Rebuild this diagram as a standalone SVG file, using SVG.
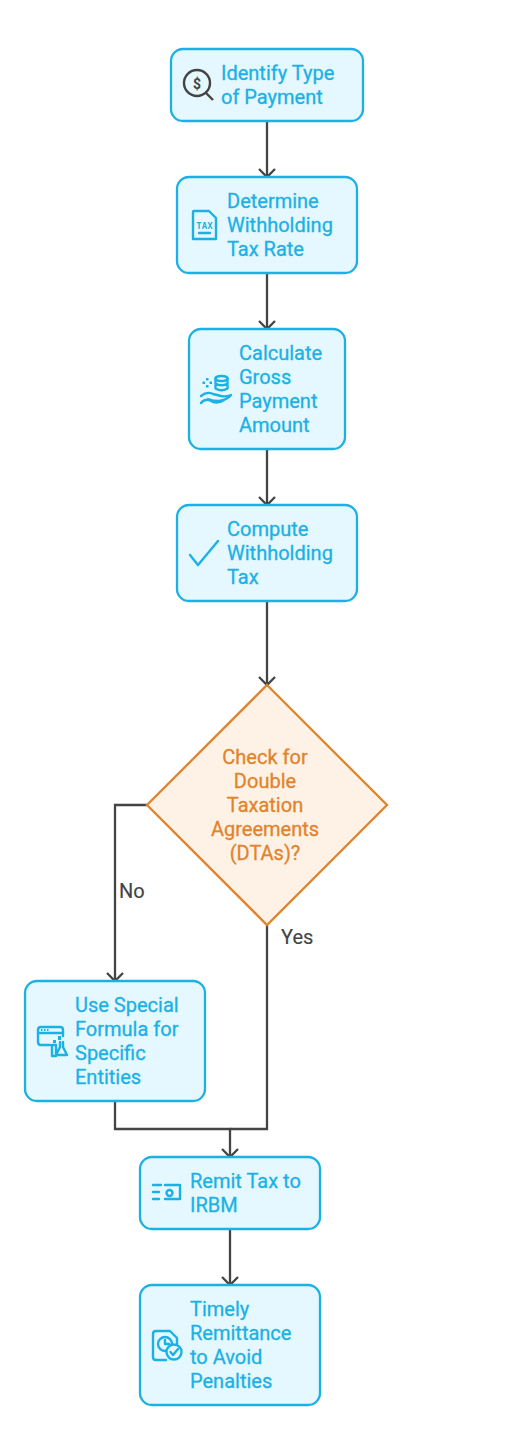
<svg xmlns="http://www.w3.org/2000/svg" width="506" height="1429" viewBox="0 0 506 1429">
<style>
.box{fill:#e5f8ff;stroke:#1bb1e5;stroke-width:2.300}
.t{font-family:Roboto,"Liberation Sans",sans-serif;font-size:20px;fill:#1bb1e5;stroke:#1bb1e5;stroke-width:.3}
.d{fill:#fef2e6;stroke:#e2832c;stroke-width:2.300}
.dt{font-family:Roboto,"Liberation Sans",sans-serif;font-size:20px;fill:#e2832c;stroke:#e2832c;stroke-width:.3;text-anchor:middle}
.l{font-family:Roboto,"Liberation Sans",sans-serif;font-size:20px;fill:#444;stroke:#444;stroke-width:.15}
.c{fill:none;stroke:#444;stroke-width:2.300}
.i{fill:none;stroke:#1bb1e5;stroke-width:2.400;stroke-linecap:round;stroke-linejoin:round}
.f{fill:#1bb1e5}
</style>
<defs>
<marker id="a" markerUnits="userSpaceOnUse" markerWidth="20" markerHeight="20" refX="16" refY="9" orient="auto">
<path d="M8 1L16 9L8 17" fill="none" stroke="#444" stroke-width="2.300"/>
</marker>
</defs>
<g id="connectors">
<path class="c" marker-end="url(#a)" d="M267 121V177"/>
<path class="c" marker-end="url(#a)" d="M267 273V329"/>
<path class="c" marker-end="url(#a)" d="M267 449V505"/>
<path class="c" marker-end="url(#a)" d="M267 601V685"/>
<path class="c" marker-end="url(#a)" d="M147 805H115V981"/>
<path class="c" d="M267 925V1129H230"/>
<path class="c" marker-end="url(#a)" d="M115 1101V1129H230V1157"/>
<path class="c" marker-end="url(#a)" d="M230 1229V1285"/>
<text class="l" x="119" y="898">No</text>
<text class="l" x="281" y="944">Yes</text>
</g>
<g id="n1">
<rect class="box" x="171" y="49" width="192" height="72" rx="12"/>
<g fill="none" stroke="#444" stroke-width="2.400"><circle cx="197" cy="83" r="13"/><path d="M206 93L213 100"/></g>
<text x="197" y="88.500" text-anchor="middle" font-family="Roboto,sans-serif" font-size="14" font-weight="700" fill="#444">$</text>
<text class="t" x="221" y="80">Identify Type</text><text class="t" x="221" y="104">of Payment</text>
</g>
<g id="n2">
<rect class="box" x="177" y="177" width="180" height="96" rx="12"/>
<path class="i" d="M193 212Q193 211 194 211H209L216 218V239H193Z"/><path class="i" d="M199 233H210" />
<text x="204.500" y="229" text-anchor="middle" font-family="'DejaVu Sans Mono',monospace" font-size="9" font-weight="700" fill="#1bb1e5">TAX</text>
<text class="t" x="227" y="208">Determine</text><text class="t" x="227" y="232">Withholding</text><text class="t" x="227" y="256">Tax Rate</text>
</g>
<g id="n3">
<rect class="box" x="189" y="329" width="156" height="120" rx="12"/>
<ellipse class="i" cx="221.500" cy="378.500" rx="6" ry="2.500"/><path class="i" d="M215.500 378.500V388.500Q221.500 392 227.500 388.500V378.500M215.500 383.500Q221.500 387 227.500 383.500"/>
<path class="f" d="M206 378h2.500v2.500h-2.500zM206 385h2.500v2.500h-2.500zM202.500 381.500h2.500v2.500h-2.500zM209.500 381.500h2.500v2.500h-2.500z"/>
<path class="i" d="M201 396Q207 391 213 394L221 396Q226 397 231 395Q227 400 219 401Q213 401 208 399M201 403Q206 397 213 402Q218 404 224 400"/>
<text class="t" x="239" y="360">Calculate</text><text class="t" x="239" y="384">Gross</text><text class="t" x="239" y="408">Payment</text><text class="t" x="239" y="432">Amount</text>
</g>
<g id="n4">
<rect class="box" x="177" y="505" width="180" height="96" rx="12"/>
<path class="i" d="M190 555L198 565L218 541"/>
<text class="t" x="227" y="536">Compute</text><text class="t" x="227" y="560">Withholding</text><text class="t" x="227" y="584">Tax</text>
</g>
<g id="n5">
<path class="d" d="M267 685L387 805L267 925L147 805Z"/>
<text class="dt" x="265" y="764">Check for</text><text class="dt" x="265" y="788">Double</text><text class="dt" x="265" y="812">Taxation</text><text class="dt" x="265" y="836">Agreements</text><text class="dt" x="265" y="860">(DTAs)?</text>
</g>
<g id="n6">
<rect class="box" x="25" y="981" width="180" height="120" rx="12"/>
<path class="i" d="M50 1045H41Q38 1045 38 1042V1030Q38 1027 41 1027H60Q63 1027 63 1030V1036M38 1033H63"/>
<path class="f" d="M41 1029h1.500v2H41zM44 1029h1.500v2H44zM47 1029h1.500v2H47z"/>
<path class="i" d="M52 1045V1056H56V1045ZM60 1042V1047L56 1055H67L63 1047V1042"/>
<path class="f" d="M58 1036h3v4h-3zM53 1040h3v3h-3z"/>
<text class="t" x="75" y="1012">Use Special</text><text class="t" x="75" y="1036">Formula for</text><text class="t" x="75" y="1060">Specific</text><text class="t" x="75" y="1084">Entities</text>
</g>
<g id="n7">
<rect class="box" x="140" y="1157" width="180" height="72" rx="12"/>
<path class="i" d="M153 1185H161M153 1192H159M153 1199H159M165 1185H180V1199H165"/><circle class="i" cx="169.500" cy="1193" r="3"/>
<text class="t" x="190" y="1188">Remit Tax to</text><text class="t" x="190" y="1212">IRBM</text>
</g>
<g id="n8">
<rect class="box" x="140" y="1285" width="180" height="120" rx="12"/>
<path class="i" d="M166 1360H156Q153 1360 153 1357V1334Q153 1331 156 1331H170L177 1338V1344"/><circle class="i" cx="165" cy="1344" r="7"/><path class="i" d="M165 1340V1344H169"/><circle fill="#e5f8ff" class="i" style="fill:#e5f8ff" cx="174" cy="1352" r="7.500"/><path class="i" d="M170.500 1352L173 1355L178 1349"/>
<text class="t" x="190" y="1316">Timely</text><text class="t" x="190" y="1340">Remittance</text><text class="t" x="190" y="1364">to Avoid</text><text class="t" x="190" y="1388">Penalties</text>
</g>
</svg>
